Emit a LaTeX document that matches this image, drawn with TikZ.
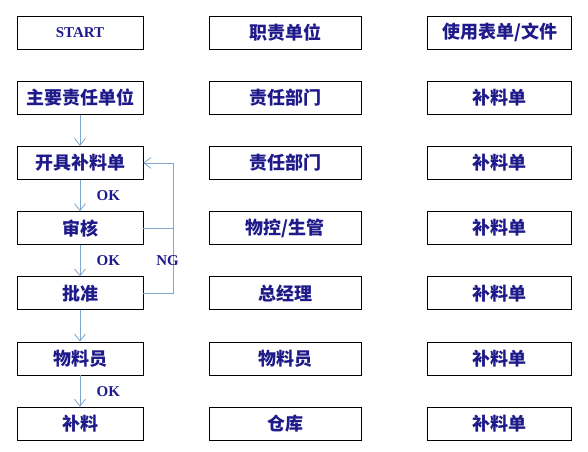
\documentclass[tikz,border=0pt]{standalone}
\usepackage{fontspec}
\setmainfont{Liberation Serif}
\newfontfamily\cjk{Noto Sans CJK SC}
\usetikzlibrary{positioning, arrows.meta}
\definecolor{TextNavy}{HTML}{1F1A8A}
\definecolor{FlowBlue}{HTML}{7FA7CB}

\begin{document}
\begin{tikzpicture}[x=1pt, y=1pt,
        node distance = 31.4pt and 65.5pt, % Vertical and horizontal spacing
        box/.style    = {rectangle, draw, line width=0.8pt, inner sep=0pt, minimum height=33pt,
                         text=TextNavy, font=\cjk\bfseries\fontsize{18}{18}\selectfont},
        % widths of the three columns
        flow/.style   = {box, minimum width=126pt},
        dept/.style   = {box, minimum width=152pt},
        form/.style   = {box, minimum width=144pt},
        tag/.style    = {text=TextNavy, font=\bfseries\fontsize{15}{15}\selectfont},
        line/.style   = {draw=FlowBlue, line width=0.8pt},
        arrow/.style  = {line, -{Straight Barb[length=7pt, width=11pt]}} % Style for the arrows
    ]
    \useasboundingbox (0,0) rectangle (588,-451);

    % --- Flow column ---
    \node[flow, font=\bfseries\fontsize{15}{15}\selectfont] (start) at (80,-32.5) {START};
    \node[flow, below=of start] (zhuyao) {主要责任单位};
    \node[flow, below=of zhuyao] (kaiju) {开具补料单};
    \node[flow, below=of kaiju] (shenhe) {审核};
    \node[flow, below=of shenhe] (pizhun) {批准};
    \node[flow, below=of pizhun] (wuliao) {物料员};
    \node[flow, below=of wuliao] (buliao) {补料};

    % --- Department column ---
    \node[dept, right=of start] (d_head) {职责单位};
    \node[dept, right=of zhuyao] (d_zhuyao) {责任部门};
    \node[dept, right=of kaiju] (d_kaiju) {责任部门};
    \node[dept, right=of shenhe] (d_shenhe) {物控/生管};
    \node[dept, right=of pizhun] (d_pizhun) {总经理};
    \node[dept, right=of wuliao] (d_wuliao) {物料员};
    \node[dept, right=of buliao] (d_buliao) {仓库};

    % --- Form column ---
    \node[form, right=of d_head] (f_head) {使用表单/文件};
    \node[form, right=of d_zhuyao] (f_zhuyao) {补料单};
    \node[form, right=of d_kaiju] (f_kaiju) {补料单};
    \node[form, right=of d_shenhe] (f_shenhe) {补料单};
    \node[form, right=of d_pizhun] (f_pizhun) {补料单};
    \node[form, right=of d_wuliao] (f_wuliao) {补料单};
    \node[form, right=of d_buliao] (f_buliao) {补料单};

    % Arrows
    \draw[arrow] (zhuyao) -- (kaiju);
    \draw[arrow] (kaiju) -- node[tag, right=13pt] (ok1) {OK} (shenhe);
    \draw[arrow] (shenhe) -- node[tag, right=13pt] (ok2) {OK} (pizhun);
    \draw[arrow] (pizhun) -- (wuliao);
    \draw[arrow] (wuliao) -- node[tag, right=13pt] (ok3) {OK} (buliao);

    % NG loop back
    \coordinate[right=30pt of pizhun.east] (loop);
    \draw[line] (shenhe.east) -- (shenhe.east -| loop);
    \draw[arrow] (pizhun.east) -- (loop) |- (kaiju.east);
    \node[tag, right=29pt of ok2] (ng) {NG};

\end{tikzpicture}
\end{document}
